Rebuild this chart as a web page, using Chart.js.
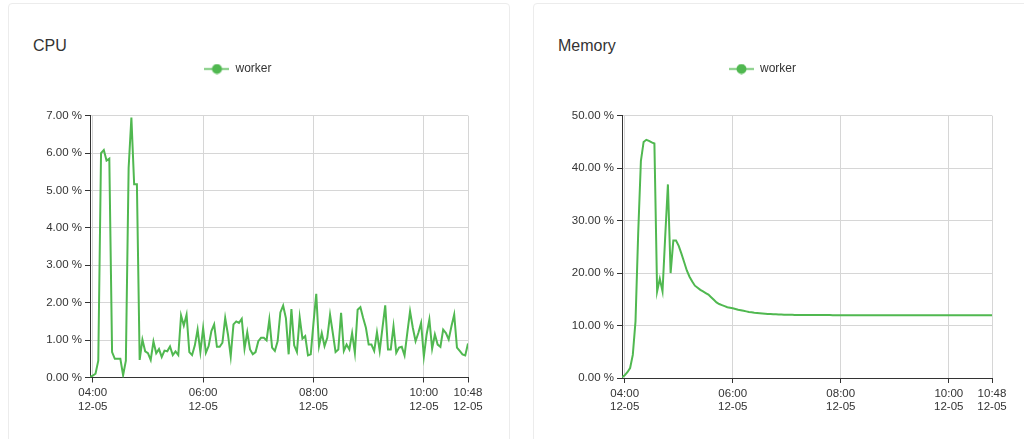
<!DOCTYPE html>
<html>
<head>
<meta charset="utf-8">
<title>CPU / Memory</title>
<script src="https://cdn.jsdelivr.net/npm/chart.js@4.4.1/dist/chart.umd.min.js"></script>
<style>
  html, body { margin: 0; padding: 0; background: #fff; width: 1024px; height: 439px; overflow: hidden; }
  .card { position: absolute; top: 3px; width: 502px; height: 470px; border: 1px solid #ececec; border-radius: 4px; box-sizing: border-box; }
  .card h3 { position: absolute; left: 24px; top: 33px; margin: 0; font: 400 16px "Liberation Sans", Arial, sans-serif; color: #333; }
  .plot { position: absolute; top: 3px; width: 502px; height: 436px; }
  #cpuCard, #cpuPlot { left: 8px; }
  #memCard, #memPlot { left: 533px; }
</style>
</head>
<body>

<div class="card" id="cpuCard"><h3>CPU</h3></div>
<div class="card" id="memCard"><h3>Memory</h3></div>
<div class="plot" id="cpuPlot"><canvas id="cpuChart"></canvas></div>
<div class="plot" id="memPlot"><canvas id="memChart"></canvas></div>

<script>
// =====================
// DATA
// =====================

const SERIES_NAME = "worker";
const DAY_LABEL = "12-05";
const START_TIME = "03:57";   // first sample
const STEP_MINUTES = 3;       // one sample every 3 minutes, last one 10:48
const X_TICKS = ["04:00", "06:00", "08:00", "10:00", "10:48"];

const CPU_TICKS_MAX = 7;
const MEM_TICKS_MAX = 50;

// CPU usage in %
const cpuValues = [
  0.02, 0.05, 0.1, 0.45, 6.0, 6.08, 5.8, 5.85, 0.68, 0.5,
  0.5, 0.5, 0.06, 0.45, 5.6, 6.95, 5.17, 5.17, 0.47, 1.01,
  0.7, 0.65, 0.47, 0.96, 0.65, 0.76, 0.55, 0.72, 0.7, 0.83,
  0.6, 0.7, 0.6, 1.66, 1.39, 1.68, 0.68, 0.6, 0.86, 1.28,
  0.68, 1.32,
  0.66, 0.84, 1.24, 1.42, 0.82, 0.82, 0.93, 1.59, 1.15, 0.56,
  1.42, 1.5, 1.46, 1.57, 0.77, 1.21, 0.75, 0.62, 0.68, 0.97,
  1.06, 1.06, 0.99, 1.55, 0.8, 0.71, 0.97, 1.74, 1.92, 1.59,
  0.62, 1.83, 0.86, 0.68, 1.61, 1.04, 1.11, 0.59, 0.62, 1.46,
  2.24, 0.84, 1.19, 0.84, 1.06, 1.68, 1.19, 0.68, 0.75, 1.73,
  0.71, 0.88, 0.75, 1.19, 0.66, 1.81, 1.88, 1.59, 1.33, 0.88,
  0.88, 0.71, 1.21, 0.71, 1.33, 1.93, 0.75, 0.75, 1.37, 0.66,
  0.8, 0.82, 0.59, 1.19, 1.77, 1.33, 0.97, 1.19, 1.46, 0.56,
  1.15, 1.55, 0.77, 1.15, 0.88, 0.82, 1.28, 1.19, 1.02, 1.37,
  1.68, 0.8, 0.71, 0.62, 0.59, 0.91
];

// Memory usage in %
const memValues = [
  0.13, 0.5, 1.1, 1.9, 4.4, 10.8, 27.7, 41.4, 45.0, 45.4,
  45.2, 44.9, 44.7, 16.5, 18.9, 16.5, 27.0, 36.9, 20.0, 26.2,
  26.2, 25.2, 23.7, 22.1, 20.5, 19.3, 18.4, 17.6, 17.2, 16.8,
  16.5, 16.2, 15.9, 15.4, 14.9, 14.4, 14.1, 13.9, 13.7, 13.5,
  13.4, 13.3, 13.15, 13.0, 12.9, 12.8, 12.7, 12.6, 12.52, 12.45,
  12.4, 12.35, 12.3, 12.26, 12.22, 12.19, 12.16, 12.13, 12.11, 12.09,
  12.07, 12.06, 12.05, 12.04, 12.03, 12.02, 12.02, 12.01, 12.01, 12.0,
  12.0, 12.0, 12.0, 11.99, 11.99, 11.99, 11.99, 11.99, 11.98, 11.98,
  11.98, 11.98, 11.98, 11.98, 11.97, 11.97, 11.97, 11.97, 11.97, 11.97,
  11.97, 11.97, 11.96, 11.96, 11.96, 11.96, 11.96, 11.96, 11.96, 11.96,
  11.96, 11.96, 11.96, 11.96, 11.95, 11.95, 11.95, 11.95, 11.95, 11.95,
  11.95, 11.95, 11.95, 11.95, 11.95, 11.95, 11.95, 11.95, 11.95, 11.95,
  11.95, 11.95, 11.95, 11.95, 11.95, 11.95, 11.95, 11.95, 11.95, 11.95,
  11.95, 11.95, 11.95, 11.95, 11.95, 11.95, 11.95, 11.95
];


// =====================
// HELPERS
// =====================

const GREEN = "#50b850";
const FONT = "'Liberation Sans', Arial, sans-serif";

function toMinutes(hhmm) {
  const [h, m] = hhmm.split(":").map(Number);
  return h * 60 + m;
}

function fmtTime(min) {
  const h = Math.floor(min / 60), m = Math.round(min % 60);
  return String(h).padStart(2, "0") + ":" + String(m).padStart(2, "0");
}

function toPoints(values) {
  const t0 = toMinutes(START_TIME);
  return values.map((v, i) => ({ x: t0 + i * STEP_MINUTES, y: v }));
}

// legend marker: short line with a dot on it
function makeMarker() {
  const c = document.createElement("canvas");
  c.width = 25;
  c.height = 11;
  const ctx = c.getContext("2d");
  ctx.strokeStyle = GREEN;
  ctx.lineWidth = 1.5;
  ctx.beginPath();
  ctx.moveTo(0, 5.5);
  ctx.lineTo(25, 5.5);
  ctx.stroke();
  ctx.fillStyle = GREEN;
  ctx.beginPath();
  ctx.arc(12.5, 5.5, 5, 0, Math.PI * 2);
  ctx.fill();
  return c;
}


// =====================
// CHART
// =====================

function buildChart(canvasId, values, yMax, yStep, area) {
  const first = toMinutes(START_TIME);
  const last = first + (values.length - 1) * STEP_MINUTES;
  const tickMinutes = X_TICKS.map(toMinutes);

  return new Chart(document.getElementById(canvasId), {
    type: "line",
    data: {
      datasets: [{
        label: SERIES_NAME,
        data: toPoints(values),
        borderColor: GREEN,
        backgroundColor: GREEN,
        borderWidth: 2,
        pointRadius: 0,
        tension: 0,
        fill: false
      }]
    },
    options: {
      responsive: true,
      maintainAspectRatio: false,
      animation: false,
      layout: { padding: { top: area.padTop, right: area.padRight, left: 0, bottom: 0 } },
      plugins: {
        tooltip: { enabled: false },
        legend: {
          position: "top",
          labels: {
            usePointStyle: true,
            pointStyle: makeMarker(),
            pointStyleWidth: 25,
            padding: 10,
            color: "#333",
            font: { family: FONT, size: 12 }
          }
        },
        // empty box used as a gap between legend and plot
        subtitle: {
          display: true,
          text: "",
          weight: 500,
          font: { size: 1 },
          padding: { top: 0, bottom: area.gap }
        }
      },
      scales: {
        x: {
          type: "linear",
          min: first,
          max: last,
          afterBuildTicks: s => { s.ticks = tickMinutes.map(v => ({ value: v })); },
          afterFit: s => { s.height = area.xHeight; },
          ticks: {
            autoSkip: false,
            maxRotation: 0,
            padding: 4,
            color: "#333",
            font: { family: FONT, size: 11.5, lineHeight: 1.15 },
            callback: v => [fmtTime(v), DAY_LABEL]
          },
          grid: { color: "#d6d6d6", tickColor: "#333", tickLength: 5 },
          border: { color: "#333", width: 1 }
        },
        y: {
          min: 0,
          max: yMax,
          afterFit: s => { s.width = area.yWidth; },
          ticks: {
            stepSize: yStep,
            padding: 3,
            color: "#333",
            font: { family: FONT, size: 11.5 },
            callback: v => v.toFixed(2) + " %"
          },
          grid: { color: "#d6d6d6", tickColor: "#333", tickLength: 5 },
          border: { color: "#333", width: 1 }
        }
      }
    }
  });
}

document.addEventListener("DOMContentLoaded", () => {
  buildChart("cpuChart", cpuValues, CPU_TICKS_MAX, 1,
    { padTop: 50, padRight: 42, gap: 29.5, yWidth: 82, xHeight: 61.5 });
  buildChart("memChart", memValues, MEM_TICKS_MAX, 10,
    { padTop: 50, padRight: 43, gap: 29.5, yWidth: 89, xHeight: 61 });
});
</script>
</body>
</html>
